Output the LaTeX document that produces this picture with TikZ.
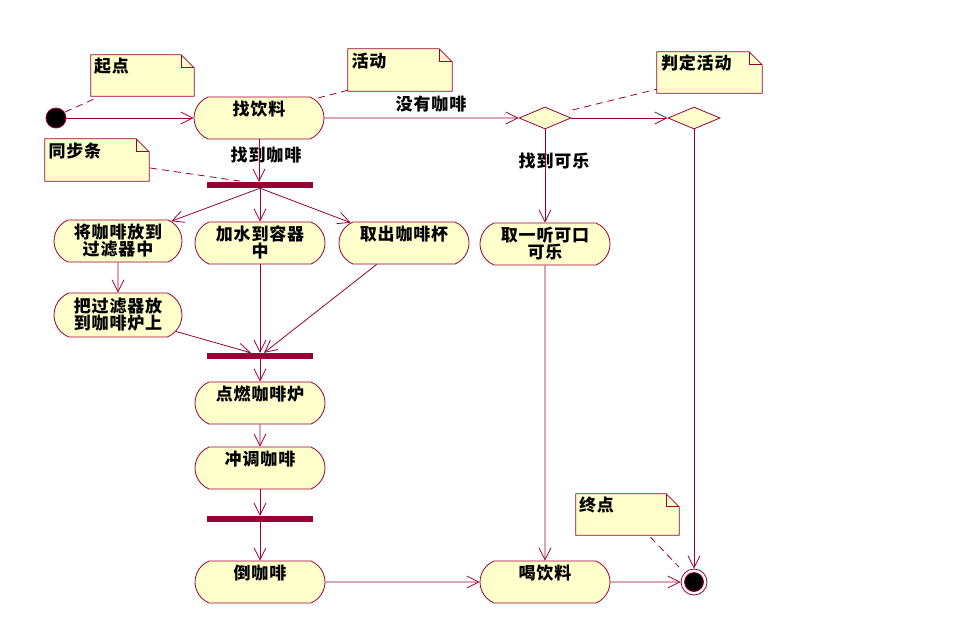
\documentclass[tikz,border=0pt]{standalone}
\usepackage{fontspec}
\setmainfont{Noto Sans CJK SC}[LetterSpace=5]
\usetikzlibrary{shapes.misc,shapes.geometric,arrows.meta,calc,backgrounds}
\definecolor{uml}{HTML}{990033}
\definecolor{notefill}{HTML}{FFFFCC}
\newcommand\acttxt[1]{\parbox[t][34pt][t]{108pt}{\centering #1}}
\newcommand\notetxt[1]{\parbox[t][35pt][t]{97pt}{\raggedright #1}}
\begin{document}
\begin{tikzpicture}[x=1pt,y=-1pt,
  txt/.style={font=\fontsize{17}{17}\selectfont\bfseries},
  act/.style={rounded rectangle, rounded rectangle arc length=135, draw=uml, fill=notefill, line width=0.8pt, minimum height=42pt, minimum width=134pt, inner xsep=2pt, inner ysep=4pt, txt},
  note/.style={rectangle, inner sep=2pt, minimum width=103pt, minimum height=41pt, txt},
  decision/.style={diamond, draw=uml, fill=notefill, line width=0.8pt, minimum width=52pt, minimum height=22pt, inner sep=0pt},
  syncbar/.style={rectangle, fill=uml, minimum width=106pt, minimum height=6pt, inner sep=0pt},
  startst/.style={circle, fill=black, draw=uml, line width=0.8pt, minimum size=20pt, inner sep=0pt},
  endst/.style={circle, fill=white, draw=uml, line width=0.8pt, minimum size=26pt, inner sep=0pt},
  endin/.style={circle, fill=black, draw=uml, line width=0.8pt, minimum size=19pt, inner sep=0pt},
  flow/.style={draw=uml, line width=0.8pt, -{Straight Barb[length=12pt,width=12pt]}},
  link/.style={draw=uml, line width=0.8pt, dash pattern=on 7pt off 5pt},
  lbl/.style={txt, inner sep=0pt}]
\useasboundingbox (0,0) rectangle (971,635);
% nodes
\node[startst] (start) at (56,118) {};
\node[act] (find) at (259,118) {\acttxt{找饮料}};
\node[decision] (d1) at (545,118) {};
\node[decision] (d2) at (694,118) {};
\node[syncbar] (bar1) at (260,185) {};
\node[act, minimum width=132pt] (a1) at (118,241) {\acttxt{将咖啡放到\\过滤器中}};
\node[act] (a2) at (260,243) {\acttxt{加水到容器\\中}};
\node[act] (a3) at (404,243) {\acttxt{取出咖啡杯}};
\node[act] (a4) at (545,244) {\acttxt{取一听可口\\可乐}};
\node[act, minimum width=132pt, minimum height=44pt] (a5) at (118,315) {\acttxt{把过滤器放\\到咖啡炉上}};
\node[syncbar] (bar2) at (260,356) {};
\node[act] (a6) at (260,403) {\acttxt{点燃咖啡炉}};
\node[act] (a7) at (260,468) {\acttxt{冲调咖啡}};
\node[syncbar] (bar3) at (260,519) {};
\node[act] (a8) at (260,582) {\acttxt{倒咖啡}};
\node[act] (a9) at (545,582) {\acttxt{喝饮料}};
\node[endst] (end) at (694,582) {};
\node[endin] (endc) at (694,582) {};
% notes
\node[note] (nstart) at (142.5,75.5) {\notetxt{起点}};
\node[note, minimum width=104pt, minimum height=42pt] (nact) at (400,70) {\notetxt{活动}};
\node[note, minimum width=105pt] (njudge) at (709.5,72.5) {\notetxt{判定活动}};
\node[note, minimum width=104pt, minimum height=42pt] (nsync) at (97,160) {\notetxt{同步条}};
\node[note] (nend) at (627.5,514.5) {\notetxt{终点}};
% edge labels
\node[lbl] (l1) at (266,155) {找到咖啡};
\node[lbl] (l2) at (431,104) {没有咖啡};
\node[lbl] (l3) at (554,161) {找到可乐};
% flows
\draw[flow] (start) -- (find);
\draw[flow] (find.south) -- (find.south |- bar1.north);
\draw[flow] (find) -- (d1);
\draw[flow] (d1) -- (d2);
\draw[flow] (d1.south) -- (a4.north);
\draw[flow] (d2.south) -- (end.north);
\draw[flow] (bar1.south) -- (a1);
\draw[flow] (bar1.south) -- (a2.north);
\draw[flow] (bar1.south) -- (a3);
\draw[flow] (a1) -- (a5);
\draw[flow] (a5) -- ($(bar2.north)+(-9,0)$);
\draw[flow] (a2.south) -- (bar2.north);
\draw[flow] (a3) -- ($(bar2.north)+(4,0)$);
\draw[flow] (bar2.south) -- (a6.north);
\draw[flow] (a6) -- (a7);
\draw[flow] (a7.south) -- (bar3.north);
\draw[flow] (bar3.south) -- (a8.north);
\draw[flow] (a8) -- (a9);
\draw[flow] (a4) -- (a9);
\draw[flow] (a9) -- (end);
% note links
\draw[link] ($(start.center)+(9,-6)$) -- ($(nstart.south west)+(5,2)$);
\draw[link] ($(find.center)+(59,-20)$) -- ($(nact.south west)+(0,-1)$);
\draw[link] ($(d1.east)+(1,-8)$) -- ($(njudge.south west)+(0,-4)$);
\draw[link] ($(nsync.east)+(1,8)$) -- ($(bar1.north)+(-15,0)$);
\draw[link] ($(nend.south)+(23,2)$) -- ($(end.center)+(-15,-15)$);
% backgrounds
\begin{scope}[on background layer]
\fill[white] (0,0) rectangle (971,635);
\foreach \n in {nstart,nact,njudge,nsync,nend}{
  \draw[uml, line width=0.8pt, fill=notefill] (\n.north west) -- ($(\n.north east)+(-13,0)$) -- ($(\n.north east)+(0,13)$) -- (\n.south east) -- (\n.south west) -- cycle;
  \draw[uml, line width=0.8pt] ($(\n.north east)+(-13,0)$) -- ($(\n.north east)+(-13,13)$) -- ($(\n.north east)+(0,13)$);
}
\end{scope}
\end{tikzpicture}
\end{document}
